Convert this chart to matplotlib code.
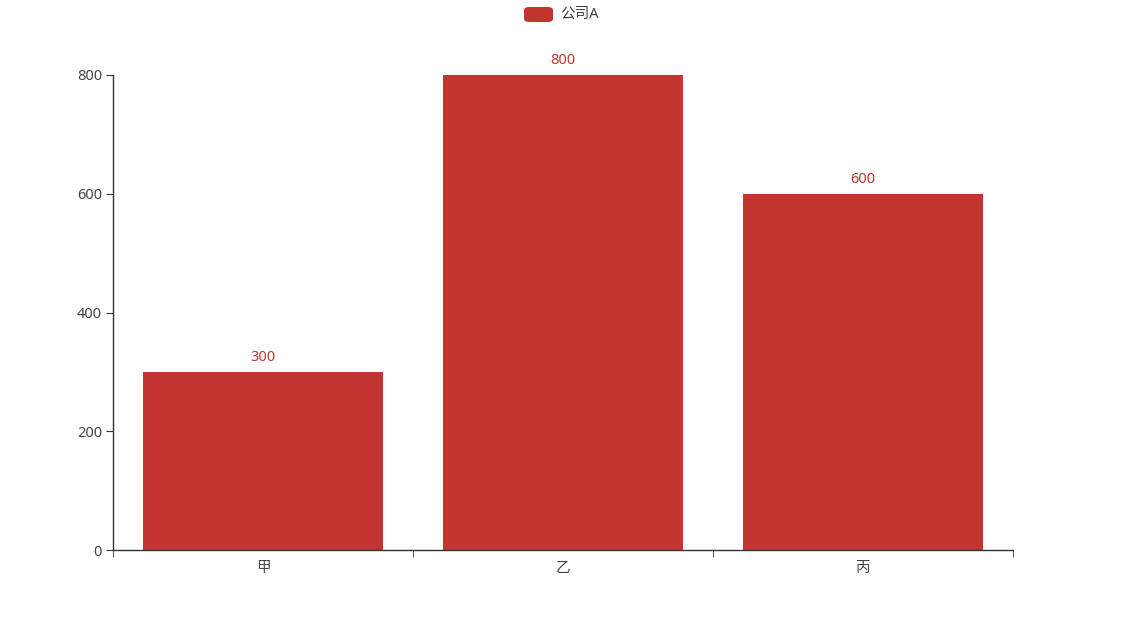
import matplotlib.pyplot as plt
from matplotlib.patches import FancyBboxPatch

plt.rcParams['font.family'] = ['Noto Sans', 'Noto Sans CJK SC', 'DejaVu Sans']

categories = ["甲", "乙", "丙"]
values = [300, 800, 600]
series_name = "公司A"
y_ticks = [0, 200, 400, 600, 800]

BAR_COLOR = "#c23531"
AXIS_COLOR = "#333333"
TEXT_COLOR = "#444444"

fig = plt.figure(figsize=(11.25, 6.25), dpi=100)
ax = fig.add_axes([113 / 1125, 1 - 550 / 625, 900 / 1125, 475 / 625])

x = list(range(len(categories)))
bars = ax.bar(x, values, width=0.8, color=BAR_COLOR)

for rect, v in zip(bars, values):
    ax.annotate(str(v), (rect.get_x() + rect.get_width() / 2, v),
                xytext=(0, 5), textcoords="offset points",
                ha="center", va="bottom", color=BAR_COLOR, fontsize=10.5)

ax.set_xlim(-0.5, len(categories) - 0.5)
ax.set_ylim(0, 800)
ax.set_yticks(y_ticks)
ax.set_yticklabels([str(t) for t in y_ticks], color=TEXT_COLOR, fontsize=10.5)

# category labels at centers, tick marks at boundaries
ax.set_xticks(x)
ax.set_xticklabels(categories, color=TEXT_COLOR, fontsize=10.5)
ax.tick_params(axis="x", length=0, pad=8)
ax.set_xticks([i - 0.5 for i in range(len(categories) + 1)], minor=True)
ax.tick_params(axis="x", which="minor", length=5, color=AXIS_COLOR, direction="out")
ax.tick_params(axis="y", length=5, color=AXIS_COLOR, direction="out", pad=3)

for side in ["top", "right"]:
    ax.spines[side].set_visible(False)
for side in ["left", "bottom"]:
    ax.spines[side].set_color(AXIS_COLOR)
    ax.spines[side].set_linewidth(1)

# legend like echarts: rounded swatch + text
leg = FancyBboxPatch((524 / 1125, 1 - 22 / 625), 29 / 1125, 15 / 625,
                     boxstyle="round,pad=0,rounding_size=0.005",
                     transform=fig.transFigure, facecolor=BAR_COLOR,
                     edgecolor="none")
fig.patches.append(leg)
fig.text(560 / 1125, 1 - 14 / 625, series_name, ha="left", va="center",
         color=TEXT_COLOR, fontsize=10.5)

fig.savefig("out.png", dpi=100)
